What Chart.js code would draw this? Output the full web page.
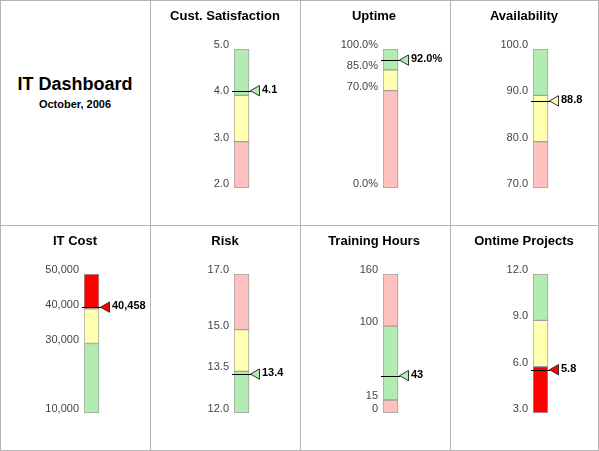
<!DOCTYPE html>
<html><head><meta charset="utf-8">
<script src="https://cdn.jsdelivr.net/npm/chart.js@4.4.1/dist/chart.umd.min.js"></script>
<style>
html,body{margin:0;padding:0;background:#fff;}
#board{position:relative;width:599px;height:451px;overflow:hidden;font-family:'Liberation Sans',Arial,sans-serif;}
.vl{position:absolute;top:0;width:1px;height:451px;background:#b4b4b4;}
.hl{position:absolute;left:0;height:1px;width:599px;background:#b4b4b4;}
.cv{position:absolute;}
#head1{position:absolute;left:0;top:74px;width:150px;text-align:center;font-weight:bold;font-size:18px;line-height:20px;color:#000;}
#head2{position:absolute;left:0;top:97px;width:150px;text-align:center;font-weight:bold;font-size:11px;line-height:14px;color:#000;}
</style></head><body>
<div id="board">
  <div id="head1">IT Dashboard</div>
  <div id="head2">October, 2006</div>
</div>
<script>
// ---- data ----
const panelTitles = ['Cust. Satisfaction','Uptime','Availability','IT Cost','Risk','Training Hours','Ontime Projects'];
const axisMin = [2, 0, 70, 10000, 12, 0, 3];
const axisMax = [5, 100, 100, 50000, 17, 160, 12];
const tickValues = [[2,3,4,5],[0,70,85,100],[70,80,90,100],[10000,30000,40000,50000],[12,13.5,15,17],[0,15,100,160],[3,6,9,12]];
const lowBand  = [[2,3],[0,70],[70,80],[10000,30000],[12,13.5],[0,15],[3,6]];
const midBand  = [[3,4],[70,85],[80,90],[30000,40000],[13.5,15],[15,100],[6,9]];
const highBand = [[4,5],[85,100],[90,100],[40000,50000],[15,17],[100,160],[9,12]];
const actualValues = [4.1, 92.0, 88.8, 40458, 13.4, 43, 5.8];
const decimals = [1,1,1,0,1,0,1];
const suffixes = ['','%','','','','',''];

// ---- styles ----
const PINK='#ffc0c0', YEL='#ffffb0', GRN='#b3ecb3', RED='#ff0000';
const lowColor  = [PINK,PINK,PINK,GRN,GRN,PINK,RED];
const midColor  = [YEL,YEL,YEL,YEL,YEL,GRN,YEL];
const highColor = [GRN,GRN,GRN,RED,PINK,PINK,GRN];
const markerColor = [GRN,GRN,YEL,RED,GRN,GRN,RED];
const FONT = "'Liberation Sans', Arial, sans-serif";

const board = document.getElementById('board');
[0,150,300,450,598].forEach(x=>{const d=document.createElement('div');d.className='vl';d.style.left=x+'px';board.appendChild(d);});
[0,225,450].forEach(y=>{const d=document.createElement('div');d.className='hl';d.style.top=y+'px';board.appendChild(d);});

function fmt(v, i){
  return v.toLocaleString('en-US',{minimumFractionDigits:decimals[i],maximumFractionDigits:decimals[i]}) + suffixes[i];
}

const markerPlugin = {
  id: 'valueMarker',
  beforeDatasetDraw(chart, args, opts){
    if (args.index !== 3) return;
    const {ctx, chartArea, scales} = chart;
    const y = Math.round(scales.y.getPixelForValue(opts.value)) + 0.5;
    const pt = chart.getDatasetMeta(3).data[1];
    ctx.save();
    ctx.strokeStyle = '#000'; ctx.lineWidth = 1;
    ctx.beginPath(); ctx.moveTo(chartArea.left - 2, y); ctx.lineTo(pt.x - 5.5, y); ctx.stroke();
    ctx.restore();
  },
  afterDatasetsDraw(chart, args, opts){
    const {ctx, scales} = chart;
    const y = scales.y.getPixelForValue(opts.value);
    const pt = chart.getDatasetMeta(3).data[1];
    ctx.save();
    ctx.fillStyle = '#000';
    ctx.font = "bold 11px " + FONT;
    ctx.textAlign = 'left'; ctx.textBaseline = 'middle';
    ctx.fillText(opts.label, pt.x + 5.5, y - 1);
    ctx.restore();
  }
};

const colLeft = [0,150,299,449];
panelTitles.forEach((title, i) => {
  const slot = i + 1, col = slot % 4, row = Math.floor(slot / 4);
  const cv = document.createElement('canvas');
  cv.className = 'cv'; cv.width = 150; cv.height = 225;
  cv.style.left = colLeft[col] + 'px'; cv.style.top = (row * 225) + 'px';
  cv.style.width = '150px'; cv.style.height = '225px';
  board.appendChild(cv);
  const barDs = (band, color) => ({
    type: 'bar', data: [band, null], backgroundColor: color, borderColor: '#a0a0a0',
    borderWidth: 1, borderSkipped: false, grouped: false, barPercentage: 1, categoryPercentage: 1, order: 1
  });
  new Chart(cv, {
    type: 'bar',
    data: {
      labels: ['band', 'marker'],
      datasets: [
        barDs(lowBand[i], lowColor[i]),
        barDs(midBand[i], midColor[i]),
        barDs(highBand[i], highColor[i]),
        { type: 'line', data: [null, actualValues[i]], showLine: false, pointStyle: 'triangle', rotation: -90,
          pointRadius: 6, pointBackgroundColor: markerColor[i], pointBorderColor: '#303030', pointBorderWidth: 1, order: 0 }
      ]
    },
    options: {
      responsive: false, animation: false, devicePixelRatio: 1,
      layout: { padding: { top: 0, left: 0, right: 0, bottom: 37 } },
      plugins: {
        legend: { display: false }, tooltip: { enabled: false },
        title: { display: true, text: title, color: '#000', font: { family: FONT, size: 13, weight: 'bold' }, padding: { top: 9, bottom: 24.4 } },
        valueMarker: { value: actualValues[i], label: fmt(actualValues[i], i) }
      },
      scales: {
        x: { type: 'category', display: false, offset: true },
        y: {
          type: 'linear', position: 'left', min: axisMin[i], max: axisMax[i], beginAtZero: false,
          grid: { display: false, drawTicks: false }, border: { display: false },
          afterBuildTicks: s => { s.ticks = tickValues[i].map(v => ({ value: v })); },
          afterFit: s => { s.width = 84; },
          ticks: { autoSkip: false, padding: 5, labelOffset: -4, color: '#444', font: { family: FONT, size: 11 },
                   callback: v => fmt(v, i) }
        },
        ySpace: {
          type: 'linear', position: 'right', display: true,
          grid: { display: false, drawTicks: false }, border: { display: false },
          ticks: { display: false },
          afterFit: s => { s.width = 36; }
        }
      }
    },
    plugins: [markerPlugin]
  });
});
</script>
</body></html>
